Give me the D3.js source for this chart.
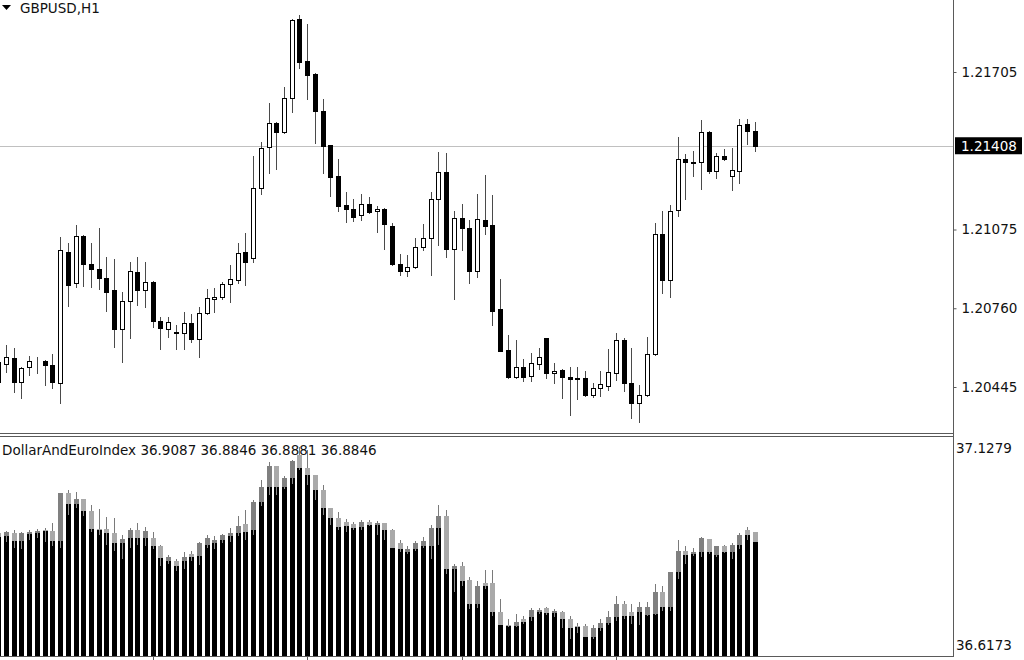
<!DOCTYPE html>
<html>
<head>
<meta charset="utf-8">
<script src="https://cdn.jsdelivr.net/npm/d3@7"></script>
<style>
  html, body { margin: 0; padding: 0; background: #fff; }
  svg { display: block; }
</style>
</head>
<body>
<div id="chart"></div>
<script>
// ---- data ----
const symbolTitle = 'GBPUSD,H1';
const indicatorTitle = 'DollarAndEuroIndex 36.9087 36.8846 36.8881 36.8846';

const priceOpen = [
  1.20543, 1.20535, 1.20559, 1.20463, 1.20523, 1.20541, 1.20547, 1.20531, 1.20459, 1.20983,
  1.20859, 1.21047, 1.20935, 1.20915, 1.20879, 1.20831, 1.20675, 1.20787, 1.20903, 1.20831,
  1.20863, 1.20707, 1.20675, 1.20663, 1.20659, 1.20699, 1.20635, 1.20739, 1.20795, 1.20803,
  1.20855, 1.20871, 1.20983, 1.20959, 1.21239, 1.21403, 1.21499, 1.21463, 1.21599, 1.21915,
  1.21747, 1.21695, 1.21547, 1.21411, 1.21287, 1.21171, 1.21155, 1.21131, 1.21175, 1.21147,
  1.21155, 1.21087, 1.20935, 1.20907, 1.20923, 1.21003, 1.21039, 1.21195, 1.21303, 1.20995,
  1.21119, 1.21079, 1.20907, 1.21111, 1.21091, 1.20755, 1.20591, 1.20483, 1.20523, 1.20487,
  1.20535, 1.20639, 1.20499, 1.20511, 1.20483, 1.20479, 1.20479, 1.20411, 1.20439, 1.20447,
  1.20499, 1.20631, 1.20459, 1.20379, 1.20411, 1.20575, 1.21055, 1.20871, 1.21151, 1.21355,
  1.21339, 1.21343, 1.21463, 1.21307, 1.21367, 1.21287, 1.21307, 1.21495, 1.21467
];
const priceHigh = [
  1.20571, 1.20611, 1.20599, 1.20523, 1.20567, 1.20563, 1.20551, 1.20575, 1.21043, 1.21019,
  1.21091, 1.21051, 1.21019, 1.21079, 1.20963, 1.20955, 1.20823, 1.20943, 1.20963, 1.20943,
  1.20866, 1.20723, 1.20723, 1.20691, 1.20743, 1.20735, 1.20763, 1.20835, 1.20839, 1.20863,
  1.20931, 1.21019, 1.21059, 1.21367, 1.21423, 1.21579, 1.21503, 1.21643, 1.21915, 1.21931,
  1.21895, 1.21698, 1.21595, 1.21413, 1.21355, 1.21223, 1.21195, 1.21215, 1.21203, 1.21167,
  1.21159, 1.21099, 1.20975, 1.20971, 1.21039, 1.21095, 1.21223, 1.21383, 1.21379, 1.21147,
  1.21175, 1.21111, 1.21215, 1.21291, 1.21211, 1.20875, 1.20651, 1.20631, 1.20555, 1.20579,
  1.20599, 1.20641, 1.20539, 1.20515, 1.20523, 1.20523, 1.20507, 1.20459, 1.20507, 1.20595,
  1.20659, 1.20639, 1.20599, 1.20451, 1.20643, 1.21099, 1.21147, 1.21171, 1.21443, 1.21375,
  1.21387, 1.21511, 1.21467, 1.21379, 1.21395, 1.21399, 1.21515, 1.21515, 1.21503
];
const priceLow = [
  1.20439, 1.20503, 1.20423, 1.20399, 1.20491, 1.20499, 1.20451, 1.20439, 1.20379, 1.20767,
  1.20843, 1.20847, 1.20843, 1.20835, 1.20747, 1.20603, 1.20543, 1.20639, 1.20771, 1.20763,
  1.20683, 1.20595, 1.20643, 1.20595, 1.20595, 1.20623, 1.20563, 1.20735, 1.20743, 1.20795,
  1.20783, 1.20859, 1.20851, 1.20943, 1.21215, 1.21299, 1.21315, 1.21459, 1.21543, 1.21719,
  1.21595, 1.21419, 1.21299, 1.21207, 1.21147, 1.21103, 1.21107, 1.21111, 1.21139, 1.21063,
  1.20995, 1.20931, 1.20891, 1.20887, 1.20919, 1.20991, 1.20891, 1.21011, 1.20963, 1.20795,
  1.20991, 1.20859, 1.20883, 1.21055, 1.20691, 1.20585, 1.20479, 1.20481, 1.20467, 1.20467,
  1.20515, 1.20479, 1.20459, 1.20399, 1.20331, 1.20395, 1.20407, 1.20403, 1.20407, 1.20431,
  1.20471, 1.20427, 1.20319, 1.20303, 1.20407, 1.20571, 1.20819, 1.20803, 1.21127, 1.21195,
  1.21287, 1.21235, 1.21299, 1.21279, 1.21351, 1.21231, 1.21259, 1.21415, 1.21387
];
const priceClose = [
  1.20463, 1.20563, 1.20463, 1.20519, 1.20547, 1.20543, 1.20531, 1.20463, 1.20991, 1.20851,
  1.21047, 1.20935, 1.20915, 1.20879, 1.20823, 1.20675, 1.20787, 1.20907, 1.20831, 1.20863,
  1.20707, 1.20679, 1.20703, 1.20661, 1.20699, 1.20635, 1.20739, 1.20799, 1.20803, 1.20855,
  1.20875, 1.20979, 1.20943, 1.21239, 1.21399, 1.21499, 1.21463, 1.21599, 1.21911, 1.21743,
  1.21691, 1.21547, 1.21407, 1.21283, 1.21167, 1.21155, 1.21123, 1.21175, 1.21143, 1.21155,
  1.21095, 1.20935, 1.20907, 1.20923, 1.21003, 1.21039, 1.21195, 1.21303, 1.20995, 1.21119,
  1.21079, 1.20907, 1.21115, 1.21087, 1.20747, 1.20587, 1.20483, 1.20523, 1.20483, 1.20539,
  1.20563, 1.20499, 1.20507, 1.20483, 1.20475, 1.20475, 1.20411, 1.20439, 1.20455, 1.20503,
  1.20631, 1.20459, 1.20379, 1.20411, 1.20575, 1.21055, 1.20871, 1.21147, 1.21355, 1.21343,
  1.21343, 1.21463, 1.21307, 1.21367, 1.21355, 1.21311, 1.21491, 1.21467, 1.21408
];

const indOpen = [
  36.9064, 36.8994, 36.9064, 36.8878, 36.9041, 36.9064, 36.9134, 36.9111, 36.8878, 36.9997,
  36.9740, 36.9857, 36.9577, 36.9157, 36.9157, 36.9064, 36.8808, 36.8948, 36.9134, 36.8948,
  36.8948, 36.8761, 36.8388, 36.8388, 36.8388, 36.8551, 36.8505, 36.8784, 36.8831, 36.8901,
  36.8994, 36.9064, 36.9274, 36.9134, 36.9787, 37.0137, 37.0626, 37.0137, 37.0347, 37.0883,
  37.0580, 37.0417, 37.0067, 36.9647, 36.9414, 36.9321, 36.9274, 36.9204, 36.9321, 36.9251,
  36.9297, 36.9134, 36.8808, 36.8598, 36.8668, 36.8761, 36.8761, 36.9181, 36.9461, 36.8202,
  36.8271, 36.7945, 36.7385, 36.7875, 36.7875, 36.7199, 36.6896, 36.6872, 36.7036, 36.7082,
  36.7199, 36.7292, 36.7176, 36.7199, 36.7036, 36.6872, 36.6872, 36.6616, 36.6826, 36.6942,
  36.7082, 36.7385, 36.7199, 36.7199, 36.7129, 36.7152, 36.7665, 36.7316, 36.8132, 36.8644,
  36.8551, 36.8598, 36.8924, 36.8528, 36.8738, 36.8598, 36.8784, 36.9134, 36.9087
];
const indHigh = [
  36.9111, 36.9111, 36.9134, 36.9088, 36.9134, 36.9157, 36.9181, 36.9297, 36.9997, 37.0067,
  37.0020, 36.9857, 36.9717, 36.9624, 36.9437, 36.9414, 36.9018, 36.9181, 36.9297, 36.9204,
  36.9088, 36.8784, 36.8528, 36.8435, 36.8598, 36.8621, 36.8854, 36.9018, 36.8994, 36.9041,
  36.9181, 36.9461, 36.9601, 36.9834, 37.0300, 37.0720, 37.0626, 37.0393, 37.0766, 37.1069,
  37.0999, 37.0417, 37.0183, 36.9647, 36.9554, 36.9391, 36.9321, 36.9367, 36.9367, 36.9344,
  36.9297, 36.9157, 36.8901, 36.8761, 36.8878, 36.8971, 36.9251, 36.9717, 36.9601, 36.8318,
  36.8365, 36.8015, 36.7922, 36.8178, 36.8178, 36.7502, 36.7036, 36.7152, 36.7106, 36.7292,
  36.7292, 36.7316, 36.7269, 36.7222, 36.7106, 36.6942, 36.6919, 36.6896, 36.7036, 36.7222,
  36.7572, 36.7455, 36.7385, 36.7432, 36.7432, 36.7852, 36.7805, 36.8132, 36.8901, 36.8761,
  36.8691, 36.8971, 36.8924, 36.8761, 36.8784, 36.8831, 36.9064, 36.9204, 36.9087
];
const indLow = [
  36.8784, 36.8854, 36.8714, 36.8668, 36.8901, 36.8948, 36.8854, 36.8761, 36.8714, 36.9484,
  36.9647, 36.9461, 36.9088, 36.9018, 36.8784, 36.8621, 36.8435, 36.8714, 36.8784, 36.8761,
  36.8668, 36.8271, 36.8318, 36.8155, 36.8202, 36.8388, 36.8295, 36.8714, 36.8668, 36.8831,
  36.8854, 36.8994, 36.8901, 36.9018, 36.9694, 36.9950, 36.9950, 37.0090, 37.0207, 37.0533,
  37.0183, 36.9834, 36.9484, 36.9251, 36.9134, 36.9088, 36.9134, 36.9134, 36.9227, 36.9018,
  36.8901, 36.8691, 36.8598, 36.8551, 36.8621, 36.8714, 36.8435, 36.8784, 36.8085, 36.7665,
  36.7805, 36.7269, 36.7292, 36.7735, 36.7106, 36.6890, 36.6849, 36.6849, 36.6919, 36.6989,
  36.7152, 36.7129, 36.7082, 36.6826, 36.6569, 36.6709, 36.6610, 36.6569, 36.6756, 36.6896,
  36.6989, 36.7036, 36.6919, 36.6896, 36.7106, 36.7129, 36.7222, 36.7222, 36.7968, 36.8318,
  36.8505, 36.8481, 36.8551, 36.8481, 36.8590, 36.8435, 36.8668, 36.8901, 36.8846
];
const indClose = [
  36.8971, 36.9088, 36.8878, 36.9064, 36.9088, 36.9111, 36.9111, 36.8878, 36.9997, 36.9740,
  36.9857, 36.9577, 36.9157, 36.9134, 36.9064, 36.8808, 36.8924, 36.9134, 36.8948, 36.9111,
  36.8738, 36.8458, 36.8481, 36.8271, 36.8481, 36.8481, 36.8808, 36.8948, 36.8901, 36.9018,
  36.9064, 36.9227, 36.9088, 36.9787, 37.0137, 37.0626, 37.0137, 37.0347, 37.0743, 37.0580,
  37.0417, 37.0067, 36.9647, 36.9414, 36.9204, 36.9227, 36.9181, 36.9321, 36.9251, 36.9297,
  36.9134, 36.8714, 36.8668, 36.8668, 36.8831, 36.8878, 36.9181, 36.9461, 36.8202, 36.8271,
  36.7922, 36.7385, 36.7805, 36.7805, 36.7199, 36.6896, 36.6872, 36.6966, 36.6966, 36.7246,
  36.7246, 36.7176, 36.7222, 36.7036, 36.6826, 36.6849, 36.6616, 36.6826, 36.6942, 36.7082,
  36.7385, 36.7106, 36.7106, 36.7316, 36.7316, 36.7665, 36.7316, 36.8132, 36.8644, 36.8528,
  36.8598, 36.8948, 36.8598, 36.8738, 36.8598, 36.8784, 36.9018, 36.9018, 36.8846
];

const priceTicks = [1.20445, 1.20760, 1.21075, 1.21705];
const lastPrice = 1.21408;
const priceRange = [1.20263, 1.21991];
const indRange = [36.6173, 37.1279];
const timeTickBars = [20, 40, 60, 80];

// ---- layout ----
const width = 1024,
    height = 660,
    plotRight = 953,
    mainBottom = 432,
    subTop = 438,
    subBottom = 656,
    font = 'DejaVu Sans',
    n = priceClose.length;

const x = d3.scaleLinear().domain([0, n - 1]).range([-1.7, 754.9]),
    yPrice = d3.scaleLinear().domain(priceRange).range([mainBottom, 0]),
    yInd = d3.scaleLinear().domain(indRange).range([subBottom, subTop]),
    px = i => Math.round(x(i)),
    py = v => Math.round(yPrice(v)),
    pi = v => Math.round(yInd(v));

const svg = d3.select('#chart')
    .append('svg')
    .attr('width', width)
    .attr('height', height)
    .style('font-family', font);

svg.append('rect').attr('width', width).attr('height', height).attr('fill', '#fff');

// clip both panes at the price scale
svg.append('clipPath').attr('id', 'mainClip')
    .append('rect').attr('x', 0).attr('y', 0).attr('width', plotRight).attr('height', mainBottom);
svg.append('clipPath').attr('id', 'subClip')
    .append('rect').attr('x', 0).attr('y', subTop).attr('width', plotRight).attr('height', subBottom - subTop);

// current price line
svg.append('line')
    .attr('x1', 0).attr('x2', plotRight)
    .attr('y1', py(lastPrice) + 0.5).attr('y2', py(lastPrice) + 0.5)
    .attr('stroke', '#c0c0c0');

// ---- candles ----
const candles = svg.append('g')
    .attr('clip-path', 'url(#mainClip)')
    .selectAll('g')
    .data(d3.range(n))
    .join('g');

candles.append('line')
    .attr('x1', i => px(i) + 0.5).attr('x2', i => px(i) + 0.5)
    .attr('y1', i => py(priceHigh[i])).attr('y2', i => py(priceLow[i]) + 1)
    .attr('stroke', '#4a4a4a');

candles.append('rect')
    .attr('x', i => px(i) - 1.5)
    .attr('width', 4)
    .attr('y', i => py(Math.max(priceOpen[i], priceClose[i])) + 0.5)
    .attr('height', i => py(Math.min(priceOpen[i], priceClose[i])) - py(Math.max(priceOpen[i], priceClose[i])))
    .attr('fill', i => priceClose[i] >= priceOpen[i] ? '#fff' : '#000')
    .attr('stroke', '#000');

// ---- indicator histogram ----
const bars = svg.append('g')
    .attr('clip-path', 'url(#subClip)')
    .selectAll('g')
    .data(d3.range(n))
    .join('g');

bars.append('line')
    .attr('x1', i => px(i) + 0.5).attr('x2', i => px(i) + 0.5)
    .attr('y1', i => pi(indHigh[i])).attr('y2', subBottom)
    .attr('stroke', '#7a7a7a');

bars.append('rect')
    .attr('x', i => px(i) - 2)
    .attr('width', 5)
    .attr('y', i => pi(Math.max(indOpen[i], indClose[i])))
    .attr('height', i => subBottom - pi(Math.max(indOpen[i], indClose[i])))
    .attr('fill', i => indClose[i] >= indOpen[i] ? '#808080' : '#a9a9a9');

bars.append('rect')
    .attr('x', i => px(i) - 2)
    .attr('width', 5)
    .attr('y', i => pi(Math.min(indOpen[i], indClose[i])))
    .attr('height', i => subBottom - pi(Math.min(indOpen[i], indClose[i])))
    .attr('fill', '#000');

bars.append('line')
    .attr('x1', i => px(i) + 0.5).attr('x2', i => px(i) + 0.5)
    .attr('y1', i => pi(Math.min(indOpen[i], indClose[i])))
    .attr('y2', i => pi(indLow[i]))
    .attr('stroke', '#8c8c8c');

// ---- frame ----
const frame = svg.append('g').attr('stroke', '#5a5a5a').attr('fill', 'none');
frame.append('line').attr('x1', plotRight + 0.5).attr('x2', plotRight + 0.5).attr('y1', 0).attr('y2', subBottom + 1);
frame.append('line').attr('x1', 0).attr('x2', plotRight + 1).attr('y1', 433.5).attr('y2', 433.5);
frame.append('line').attr('x1', 0).attr('x2', plotRight + 1).attr('y1', 436.5).attr('y2', 436.5);
frame.append('line').attr('x1', 0).attr('x2', plotRight + 1).attr('y1', subBottom + 0.5).attr('y2', subBottom + 0.5);

// time ticks under the lower pane
svg.append('g')
    .selectAll('line')
    .data(timeTickBars)
    .join('line')
    .attr('x1', i => px(i) + 0.5).attr('x2', i => px(i) + 0.5)
    .attr('y1', subBottom + 1).attr('y2', height)
    .attr('stroke', '#5a5a5a');

// ---- price scale ----
svg.append('g')
    .attr('transform', `translate(${plotRight + 0.5},0.5)`)
    .call(d3.axisRight(yPrice)
        .tickValues(priceTicks)
        .tickSize(3)
        .tickPadding(5)
        .tickFormat(d3.format('.5f')))
    .call(g => g.select('.domain').remove())
    .call(g => g.selectAll('line').attr('stroke', '#5a5a5a'))
    .call(g => g.selectAll('text')
        .attr('font-family', font)
        .attr('font-size', 13.5)
        .attr('fill', '#111'));

// current price tag
const tag = svg.append('g').attr('transform', `translate(0,${yPrice(lastPrice)})`);
tag.append('rect')
    .attr('x', plotRight + 2).attr('y', -8.5)
    .attr('width', 67).attr('height', 17)
    .attr('fill', '#000');
tag.append('text')
    .attr('x', plotRight + 8).attr('dy', '0.36em')
    .attr('font-size', 13.5)
    .attr('fill', '#fff')
    .text(d3.format('.5f')(lastPrice));

// indicator scale labels (max at top, min at bottom)
svg.append('g')
    .selectAll('text')
    .data(indRange)
    .join('text')
    .attr('x', plotRight + 3)
    .attr('y', d => yInd(d) + (d === indRange[1] ? 10 : -11))
    .attr('dy', '0.36em')
    .attr('font-size', 13.5)
    .attr('fill', '#111')
    .text(d => d3.format('.4f')(d));

// ---- titles ----
svg.append('path')
    .attr('d', 'M2,5L11,5L6.5,10Z')
    .attr('fill', '#000');
svg.append('text')
    .attr('x', 20).attr('y', 13)
    .attr('font-size', 13.5)
    .attr('fill', '#111')
    .text(symbolTitle);
svg.append('text')
    .attr('x', 2).attr('y', 455)
    .attr('font-size', 13.5)
    .attr('fill', '#111')
    .text(indicatorTitle);
</script>
</body>
</html>
